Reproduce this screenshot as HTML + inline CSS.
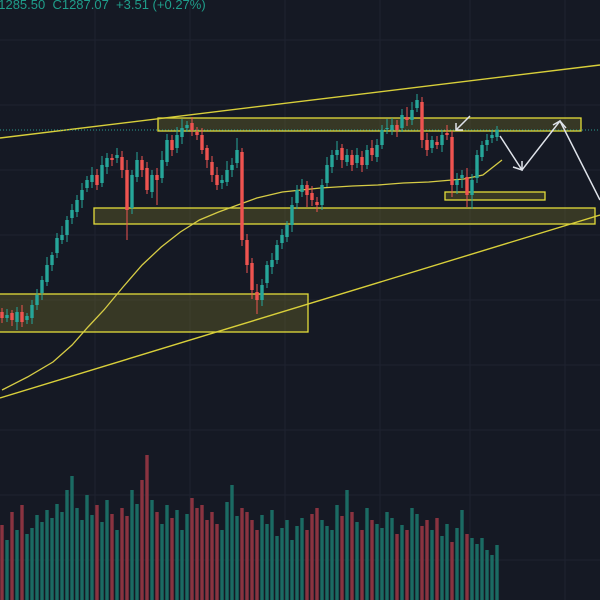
<!DOCTYPE html>
<html><head><meta charset="utf-8"><style>
html,body{margin:0;padding:0;background:#151924;}
#wrap{position:relative;width:600px;height:600px;overflow:hidden;background:#151924;font-family:"Liberation Sans",sans-serif;}
#legend{position:absolute;left:-9px;top:-3px;font-size:13px;color:#1f9d8a;white-space:nowrap;}
</style></head><body>
<div id="wrap">
<svg id="chart" width="600" height="600"></svg>
<div id="legend">L1285.50&nbsp;&nbsp;C1287.07&nbsp;&nbsp;+3.51 (+0.27%)</div>
</div>
<script>
const closes=[1099,1102,1097,1105,1095,1101,1112,1122,1137,1152,1162,1179,1182,1197,1207,1217,1227,1237,1242,1232,1252,1259,1257,1262,1247,1207,1242,1257,1247,1227,1242,1237,1257,1277,1267,1282,1289,1292,1287,1282,1267,1257,1242,1232,1237,1247,1252,1267,1177,1152,1127,1117,1132,1152,1157,1172,1182,1192,1212,1227,1232,1222,1217,1212,1232,1252,1262,1267,1257,1262,1252,1262,1252,1267,1262,1272,1287,1289,1292,1287,1302,1297,1307,1317,1277,1267,1277,1272,1282,1282,1232,1237,1242,1222,1237,1262,1272,1277,1282,1287];
const firstOpen=1105;
const wickUp=[4,6,3,5,7,3,5,6,4,8,3,5,9,4,6,5,7,4,8,6,9,5,4,7,6,10,5,8,4,6,5,7,9,6,5,8,9,4,6,5,7,3,6,8,5,9,7,12,4,6,5,8,6,4,7,5,6,4,8,5,6,4,7,5,6,8,5,9,4,6,5,7,6,5,8,6,5,9,7,5,6,10,8,6,5,7,4,6,5,8,6,7,5,9,6,5,4,6,5,4];
const wickDn=[5,4,6,8,5,4,6,5,7,4,6,5,4,7,6,5,8,4,6,5,4,7,6,5,8,30,6,5,7,4,6,25,5,4,6,5,7,4,6,5,4,8,7,5,6,4,7,5,6,8,9,14,6,5,7,4,6,5,7,6,5,12,6,7,5,4,6,5,8,4,6,5,7,4,6,5,4,6,5,7,4,6,5,4,8,6,5,4,7,5,12,9,10,12,14,5,4,6,5,4];
const volumes=[75,60,88,70,95,66,72,85,78,90,82,96,88,110,124,92,80,105,85,95,78,100,86,70,92,84,110,96,120,145,100,88,76,95,82,90,70,86,102,92,95,80,88,76,70,98,115,84,92,88,80,70,85,76,90,64,72,80,60,74,82,70,86,92,80,74,70,95,84,110,88,78,70,92,80,76,72,88,82,66,75,70,92,86,74,80,70,82,64,76,58,72,90,66,62,56,62,50,45,55];
const maValues=[1027,1040,1055,1072,1090,1107,1130,1152,1170,1185,1197,1205,1212,1219,1222,1225,1227,1229,1231,1232,1234,1235,1238,1242,1257];
const maIndex=[0,8,16,22,27,32,38,44,50,56,62,68,74,80,84,88,94,100,110,118,126,134,145,151,157];
const svg=document.getElementById('chart');
const NS='http://www.w3.org/2000/svg';
const pitch=5,x0=2,bw=3.4;
function xScale(i){return x0+i*pitch;}
function yScale(p){return 1417-p;}
function vScale(v){return 600-v;}
function mk(tag,attrs,parent){const e=document.createElementNS(NS,tag);for(const k in attrs)e.setAttribute(k,attrs[k]);(parent||svg).appendChild(e);return e;}
// grid
const grid=mk('g',{});


[40,105,170,235,300,365,430,495,560].forEach(y=>mk('line',{x1:0,x2:600,y1:y,y2:y,stroke:'#1f2330','stroke-width':1},grid));
[95,190,285,380,470,565].forEach(x=>mk('line',{x1:x,x2:x,y1:0,y2:600,stroke:'#1f2330','stroke-width':1},grid));
// zones
const zones=mk('g',{});


[[158,118,423,13],[94,208,501,16],[-2,294,310,38],[445,192,100,8]].forEach(r=>{const z=mk('rect',{x:r[0],y:r[1],width:r[2],height:r[3],fill:'rgba(120,115,40,0.35)',stroke:'#e3dc3a','stroke-width':1.3},zones);});
// trendlines
const t1=mk('line',{x1:0,y1:138,x2:600,y2:65,stroke:'#d8cf3a','stroke-width':1.4});

const t2=mk('line',{x1:0,y1:398,x2:600,y2:215,stroke:'#d8cf3a','stroke-width':1.4});

const pl=mk('line',{x1:0,x2:600,y1:yScale(1287),y2:yScale(1287),stroke:'#2a9d8f','stroke-width':1,'stroke-dasharray':'1,2'});

// volume
const vg=mk('g',{});

let prev=firstOpen;
closes.forEach((c,i)=>{const o=i===0?firstOpen:closes[i-1];const up=c>=o;const b=mk('rect',{x:xScale(i)-bw/2,y:vScale(volumes[i]),width:bw,height:volumes[i],fill:up?'#1b6b63':'#8a3340'},vg);});
// ma
const mag=mk('polyline',{points:maValues.map((v,k)=>xScale(maIndex[k]/1.57*1)+','+yScale(v)).join(' '),fill:'none',stroke:'#d6cc45','stroke-width':1.3});

// candles
const cg=mk('g',{});

closes.forEach((c,i)=>{const o=i===0?firstOpen:closes[i-1]+((i%3)-1)*2;const up=c>=o;const col=up?'#26a69a':'#ef5350';const hi=Math.max(o,c)+wickUp[i],lo=Math.min(o,c)-wickDn[i];const x=xScale(i);
const g=mk('g',{},cg);
mk('line',{x1:x,x2:x,y1:yScale(hi),y2:yScale(lo),stroke:col,'stroke-width':1},g);
const top=yScale(Math.max(o,c));mk('rect',{x:x-bw/2,y:top,width:bw,height:Math.max(1,Math.abs(c-o)),fill:col},g);});
// arrows
const ag=mk('g',{fill:'none',stroke:'#dfe3ea','stroke-width':1.5});

mk('polyline',{points:'500,136 522,170 560,121 600,200'},ag);
mk('polyline',{points:'513,167 522,170 522,161'},ag);
mk('polyline',{points:'553,125 560,121 566,128'},ag);
mk('line',{x1:470,y1:116,x2:456,y2:130},ag);
mk('polyline',{points:'456,123 456,130 463,130'},ag);
</script>
</body></html>
